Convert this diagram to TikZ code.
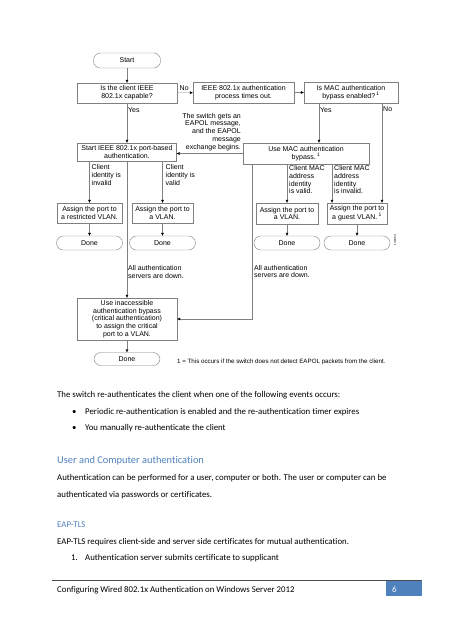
\documentclass[tikz,border=0pt]{standalone}
\usepackage{fontspec}
\setmainfont{Carlito}[Ligatures=NoCommon]
\newfontfamily\figfont{Liberation Sans}
\usetikzlibrary{arrows.meta}
\definecolor{wordblue}{RGB}{79,129,189}
\definecolor{linegray}{gray}{0.5}
\newcommand\figtext{\figfont\fontsize{7}{7.8}\selectfont}
\newcommand\bodytext{\fontsize{8.8}{10}\selectfont}

\begin{document}
\begin{tikzpicture}[x=1pt,y=-1pt,
  box/.style={draw=linegray,align=center,inner sep=1pt,font=\figtext},
  term/.style={draw=linegray,rounded corners=6.9pt,minimum width=66pt,minimum height=14pt,font=\figtext},
  lab/.style={align=left,inner sep=0pt,font=\figtext},
  arr/.style={draw=linegray,-{Triangle[length=3pt,width=2.6pt,color=black]}},
  body/.style={anchor=base west,inner sep=0pt,font=\bodytext}]
   \useasboundingbox (0,0) rectangle (474,632);
   \fill[white] (0,0) rectangle (474,632);
   % flowchart
   \node[term,minimum width=67pt,minimum height=15pt] (start) at (127,60.5) {Start};
   \node[box,minimum width=100pt,minimum height=20pt] (capable) at (127,93) {Is the client IEEE\\802.1x capable?};
   \node[box,minimum width=101pt,minimum height=21pt] (timeout) at (243.5,92.5) {IEEE 802.1x authentication\\process times out.};
   \node[box,minimum width=94pt,minimum height=21pt] (macq) at (351,92.5) {Is MAC authentication\\bypass enabled?\,\textsuperscript{1}};
   \node[box,minimum width=99pt,minimum height=18pt] (portauth) at (127,152) {Start IEEE 802.1x port-based\\authentication.};
   \node[box,minimum width=126pt,minimum height=21pt] (usemac) at (306,153.5) {Use MAC authentication\\bypass.\,\textsuperscript{1}};
   \node[box,minimum width=65pt,minimum height=20pt] (restr) at (89.5,213) {Assign the port to\\a restricted VLAN.};
   \node[box,minimum width=61pt,minimum height=20pt] (vlan) at (162.5,213) {Assign the port to\\a VLAN.};
   \node[box,minimum width=62pt,minimum height=21pt] (macvlan) at (287,213.5) {Assign the port to\\a VLAN.};
   \node[box,minimum width=60pt,minimum height=21pt] (guest) at (357,213.5) {Assign the port to\\a guest VLAN.\,\textsuperscript{1}};
   \node[term] (done1) at (89.5,243) {Done};
   \node[term] (done2) at (162.5,243) {Done};
   \node[term] (done3) at (287,243) {Done};
   \node[term] (done4) at (357,243) {Done};
   \node[box,minimum width=100pt,minimum height=42pt] (crit) at (127,319) {Use inaccessible\\authentication bypass\\(critical authentication)\\to assign the critical\\port to a VLAN.};
   \node[term,minimum height=13pt] (done5) at (127,359) {Done};
   \coordinate (down) at (252,319);

   \draw[arr] (start) -- (capable);
   \draw[arr] (capable) -- (timeout) node[lab,pos=0.45,above=2pt]{No};
   \draw[arr] (timeout) -- (macq);
   \draw[arr] (capable) -- (portauth) node[lab,pos=0.17,right=1pt]{Yes};
   \draw[arr] ([xshift=-32pt]macq.south) -- ([xshift=-32pt]macq.south |- usemac.north) node[lab,pos=0.17,right=1pt]{Yes};
   \draw[arr] ([xshift=25pt]guest.north |- macq.south) -- ([xshift=25pt]guest.north) node[lab,pos=0.06,right=1pt]{No};
   \draw[arr] (usemac.west) -- (usemac.west -| portauth.east);
   \node[lab,align=right,anchor=south east] (eapol) at (241,151) {The switch gets an\\EAPOL message,\\and the EAPOL\\message\\exchange begins.};

   \draw[arr] (restr.north |- portauth.south) -- (restr.north)
    node[lab,at start,anchor=north west,xshift=2pt,yshift=-3pt]{Client\\identity is\\invalid};
   \draw[arr] (vlan.north |- portauth.south) -- (vlan.north)
    node[lab,at start,anchor=north west,xshift=3pt,yshift=-3pt]{Client\\identity is\\valid};
   \draw[arr] (portauth) -- (crit)
    node[lab,pos=0.76,anchor=north west,xshift=1pt]{All authentication\\servers are down.};
   \draw[arr] (down |- usemac.south) -- node[lab,pos=0.65,anchor=north west,xshift=2pt]{All authentication\\servers are down.} (down) -- (crit.east);
   \draw[arr] (macvlan.north |- usemac.south) -- (macvlan.north)
    node[lab,at start,anchor=north west,xshift=2pt,yshift=-1pt]{Client MAC\\address\\identity\\is valid.};
   \draw[arr] ([xshift=-25pt]guest.north |- usemac.south) -- ([xshift=-25pt]guest.north)
    node[lab,at start,anchor=north west,xshift=2pt,yshift=-1pt]{Client MAC\\address\\identity\\is invalid.};
   \foreach \a/\b in {restr/done1,vlan/done2,macvlan/done3,guest/done4,crit/done5}
    \draw[arr] (\a) -- (\b);

   \node[lab,anchor=west,font=\figfont\fontsize{6.2}{7}\selectfont] (note) at (177,362) {1 = This occurs if the switch does not detect EAPOL packets from the client.};
   \node[lab,rotate=90,font=\figfont\fontsize{3}{3}\selectfont] (figno) at (395,240) {141654};

   % page text
   \node[body] (p1) at (57,397) {The switch re-authenticates the client when one of the following events occurs:};
   \node[body] (b1) at (72,414) {\textbullet};
   \node[body] (t1) at (85,414) {Periodic re-authentication is enabled and the re-authentication timer expires};
   \node[body] (b2) at (72,430) {\textbullet};
   \node[body] (t2) at (85,430) {You manually re-authenticate the client};
   \node[body,font=\fontsize{10.4}{12}\selectfont,text=wordblue] (h1) at (57,463) {User and Computer authentication};
   \node[body] (p2) at (57,480) {Authentication can be performed for a user, computer or both. The user or computer can be};
   \node[body] (p3) at (57,497) {authenticated via passwords or certificates.};
   \node[body,text=wordblue] (h2) at (57,527) {EAP-TLS};
   \node[body] (p4) at (57,544) {EAP-TLS requires client-side and server side certificates for mutual authentication.};
   \node[body] (n1) at (71,560) {1.};
   \node[body] (t3) at (85,560) {Authentication server submits certificate to supplicant};
   % footer
   \draw[black!70] (52,580) -- (422,580);
   \fill[wordblue] (386,581) rectangle (422,596);
   \node[body] (foot) at (57,592) {Configuring Wired 802.1x Authentication on Windows Server 2012};
   \node[body,text=white] (page) at (392,592) {6};
\end{tikzpicture}
\end{document}
